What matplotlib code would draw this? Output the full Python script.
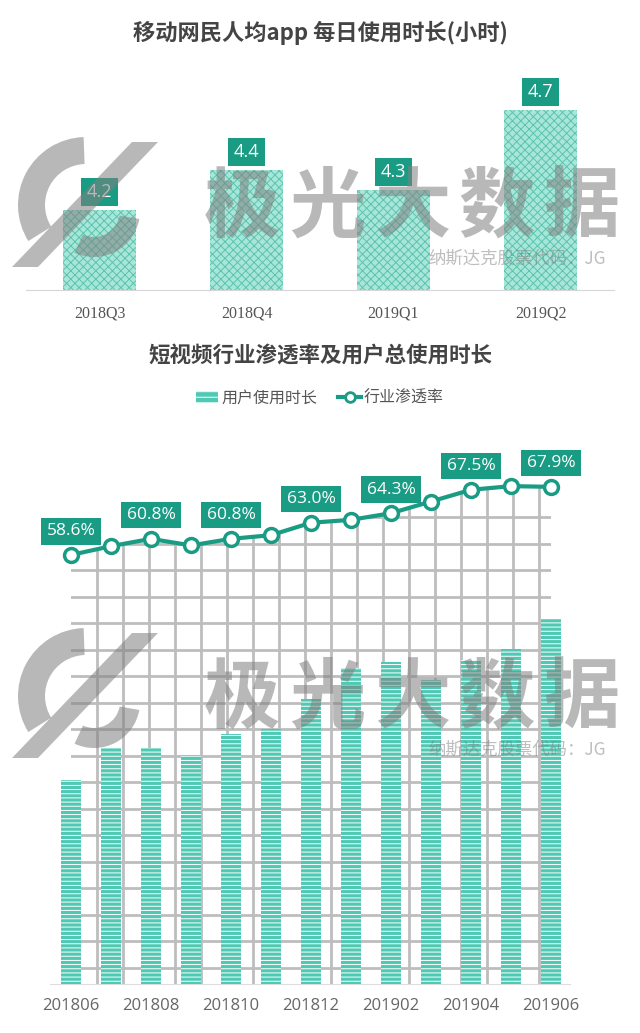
import numpy as np
import matplotlib
matplotlib.use("Agg")
import matplotlib.pyplot as plt
from matplotlib.patches import Wedge, Polygon, Rectangle
from matplotlib.lines import Line2D

plt.rcParams['font.family'] = ['Noto Sans CJK SC', 'DejaVu Sans']
plt.rcParams['hatch.linewidth'] = 0.7

# data - - - - - - - - - - - - - - - - - - - - - - - - - - - - - - - - - - - - - - - -
quarters = ['2018Q3', '2018Q4', '2019Q1', '2019Q2']
app_hours = [4.2, 4.4, 4.3, 4.7]

months = ['201806', '201807', '201808', '201809', '201810', '201811', '201812',
          '201901', '201902', '201903', '201904', '201905', '201906']
penetration = [58.6, 59.8, 60.8, 59.9, 60.8, 61.3, 63.0, 63.4, 64.3, 65.9, 67.5, 68.0, 67.9]
usage_time = [102, 118, 118, 114.5, 125, 127.5, 142.5, 158, 161, 152, 162, 167.5, 182.5]
labelled = ['201806', '201808', '201810', '201812', '201902', '201904', '201906']

TEAL = '#1a9c84'
GRID = '#bdbdbd'
NUM_FONT = ['Liberation Sans Narrow', 'Open Sans', 'DejaVu Sans']

W, H = 640, 1033
fig = plt.figure(figsize=(W / 100, H / 100), dpi=100)

def box(l, t, r, b):
    # pixel box (image coords, y down) -> figure fraction rect
    return [l / W, 1 - b / H, (r - l) / W, (b - t) / H]

# TOP CHART - - - - - - - - - - - - - - - - - - - - - - - - - - - - - - - - - - - - - -
ax1 = fig.add_axes(box(26, 50, 614, 290))
x1 = np.arange(len(quarters))
ax1.bar(x1, app_hours, width=0.5, bottom=0, color='#a9e6da', edgecolor='#5cc3ac',
        hatch='xxxx', linewidth=0)
ax1.set_xlim(-0.5, 3.5)
ax1.set_ylim(3.8, 5.0)
for xi, v in zip(x1, app_hours):
    ax1.annotate(f'{v}', (xi, v), xytext=(0, 13), textcoords='offset points',
                 ha='center', va='center', color='white', fontsize=13, family=NUM_FONT,
                 bbox=dict(boxstyle='square,pad=0.3', fc=TEAL, ec='none'))
for s in ['top', 'right', 'left']:
    ax1.spines[s].set_visible(False)
ax1.spines['bottom'].set_color('#d6d6d6')
ax1.set_yticks([])
ax1.set_xticks(x1)
ax1.set_xticklabels(quarters, family=['Liberation Serif', 'DejaVu Serif'], fontsize=11.5, color='#555555')
ax1.tick_params(axis='x', length=0, pad=11)
fig.text(0.5, 1 - 33 / H, '移动网民人均app 每日使用时长(小时)', ha='center', va='center',
         fontsize=16, fontweight='bold', color='#444444')

# BOTTOM CHART - - - - - - - - - - - - - - - - - - - - - - - - - - - - - - - - - - - - -
ax2 = fig.add_axes(box(50, 440, 570, 984))
ax3 = ax2.twinx()
x2 = np.arange(len(months))
ax2.set_xlim(-0.525, 12.475)
ax2.set_ylim(0, 74.3)
ax3.set_ylim(0, 272)

# grid pattern filled under the penetration line
clip = Polygon(np.column_stack([np.r_[x2, x2[-1], x2[0]], np.r_[penetration, 0, 0]]),
               closed=True, transform=ax2.transData, facecolor='none', edgecolor='none')
ax2.add_patch(clip)
for gx in np.arange(0.65, 12, 0.65):
    ln = ax2.plot([gx, gx], [0, 80], color=GRID, lw=2, zorder=1)[0]
    ln.set_clip_path(clip)
for gy in np.arange(2.2, 64.5, 3.62):
    ln = ax2.plot([0, 12], [gy, gy], color=GRID, lw=2, zorder=1)[0]
    ln.set_clip_path(clip)

ax3.bar(x2, usage_time, width=0.5, color='#4fc9b4', edgecolor='white', hatch='----',
        linewidth=0, zorder=2, label='用户使用时长')
ax3.set_zorder(ax2.get_zorder() + 1)
ax3.patch.set_visible(False)
ax3.axis('off')

ax4 = ax2.twinx()
ax4.set_ylim(0, 74.3)
ax4.axis('off')
ax4.set_zorder(ax3.get_zorder() + 1)
ax4.plot(x2, penetration, color=TEAL, lw=3, marker='o', ms=10, mfc='white', mec=TEAL,
         mew=2.5, label='行业渗透率')
for xi, m, v in zip(x2, months, penetration):
    if m in labelled:
        ax4.annotate(f'{v:.1f}%', (xi, v), xytext=(0, 17), textcoords='offset points',
                     ha='center', va='center', color='white', fontsize=12.5, family=NUM_FONT,
                     bbox=dict(boxstyle='square,pad=0.3', fc=TEAL, ec='none'))

for s in ['top', 'right', 'left']:
    ax2.spines[s].set_visible(False)
ax2.spines['bottom'].set_color('#dddddd')
ax2.set_yticks([])
ax2.set_xticks(x2[::2])
ax2.set_xticklabels(months[::2], family=NUM_FONT, fontsize=12, color='#666666')
ax2.tick_params(axis='x', length=0, pad=10)

fig.text(0.5, 1 - 356 / H, '短视频行业渗透率及用户总使用时长', ha='center', va='center',
         fontsize=15.5, fontweight='bold', color='#444444')

handles = [Rectangle((0, 0), 1, 1, fc='#4fc9b4', ec='white', hatch='---', lw=0),
           Line2D([], [], color=TEAL, lw=3, marker='o', ms=7, mfc='white', mec=TEAL, mew=2)]
fig.legend(handles, ['用户使用时长', '行业渗透率'], loc='center', bbox_to_anchor=(0.5, 1 - 398 / H),
           ncol=2, frameon=False, fontsize=11.5, labelcolor='#555555', handlelength=1.4,
           handletextpad=0.2, columnspacing=1.3)

# WATERMARK - - - - - - - - - - - - - - - - - - - - - - - - - - - - - - - - - - - - - -
wm = fig.add_axes([0, 0, 1, 1])
wm.set_xlim(0, W)
wm.set_ylim(0, H)
wm.axis('off')
wm.set_zorder(20)
wm.patch.set_visible(False)
WM_C = '#7f7f7f'
for cy in [205, 696]:
    yy = H - cy
    wm.add_patch(Wedge((86, yy), 68, 92, 212, width=27, fc=WM_C, ec='none', alpha=0.55))
    wm.add_patch(Wedge((94, yy - 6), 46, 245, 350, width=20, fc=WM_C, ec='none', alpha=0.55))
    wm.add_patch(Polygon([(12, yy - 62), (38, yy - 62), (158, yy + 63), (132, yy + 63)],
                         fc=WM_C, ec='none', alpha=0.55))
    for k, ch in enumerate('极光大数据'):
        wm.text(242 + 85 * k, yy - 26, ch, ha='center', va='baseline', fontsize=55,
                fontweight='bold', color=WM_C, alpha=0.55)
    wm.text(517, yy - 54, '纳斯达克股票代码：JG', ha='center', va='center', fontsize=12.5,
            color=WM_C, alpha=0.5)

fig.savefig('out.png', dpi=100)
